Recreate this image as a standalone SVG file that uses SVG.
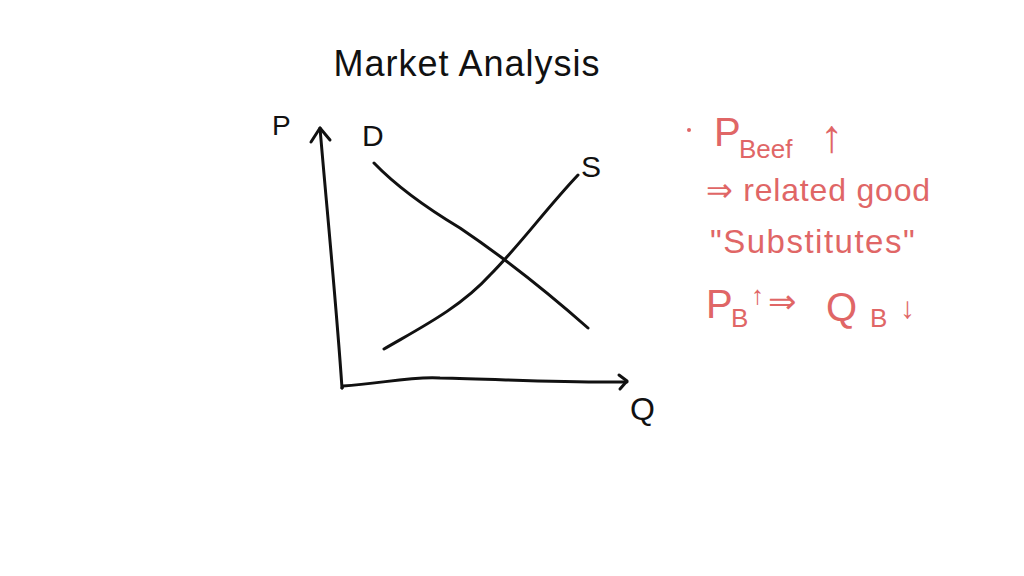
<svg xmlns="http://www.w3.org/2000/svg" width="1024" height="576" viewBox="0 0 1024 576">
<style>
.ink{fill:none;stroke:#111;stroke-width:3;stroke-linecap:round;stroke-linejoin:round}
.blk{font-family:"Liberation Sans","DejaVu Sans",sans-serif;fill:#111}
.red{font-family:"Liberation Sans","DejaVu Sans",sans-serif;fill:#e06666}
</style>
<rect width="1024" height="576" fill="#fff"/>
<text class="blk" x="467" y="76" font-size="36" text-anchor="middle" letter-spacing="1">Market Analysis</text>
<g id="axes">
<path class="ink" d="M342,388 C336,300 326,200 320,128"/>
<path class="ink" d="M311,142 L320,128 L330,140"/>
<path class="ink" d="M342,388 L343,386 C380,384 410,376 440,378 C500,379 560,383 627,382"/>
<path class="ink" d="M619,375 L627,381 L620,389"/>
<text class="blk" x="272" y="135" font-size="28">P</text>
<text class="blk" x="630" y="420" font-size="32">Q</text>
</g>
<g id="curves">
<path class="ink" d="M374,163 C400,190 430,210 460,228 C500,255 545,290 588,328"/>
<path class="ink" d="M384,349 C420,328 460,308 490,275 C520,245 545,210 578,175"/>
<text class="blk" x="362" y="146" font-size="30">D</text>
<text class="blk" x="581" y="177" font-size="30">S</text>
</g>
<g id="notes">
<circle cx="689" cy="130" r="2" fill="#e06666"/>
<text class="red" x="714" y="146" font-size="40">P</text>
<text class="red" x="739" y="158" font-size="26">Beef</text>
<text class="red" x="820" y="152" font-size="46">↑</text>
<text class="red" x="706" y="201" font-size="32" letter-spacing="0.8">⇒ related good</text>
<text class="red" x="710" y="253" font-size="33" letter-spacing="1.5">"Substitutes"</text>
<text class="red" x="706" y="318" font-size="40">P</text>
<text class="red" x="731" y="327" font-size="26">B</text>
<text class="red" x="751" y="304" font-size="26">↑</text>
<text class="red" x="768" y="313" font-size="34">⇒</text>
<text class="red" x="826" y="321" font-size="40">Q</text>
<text class="red" x="870" y="327" font-size="26">B</text>
<text class="red" x="900" y="318" font-size="30">↓</text>
</g>
</svg>
